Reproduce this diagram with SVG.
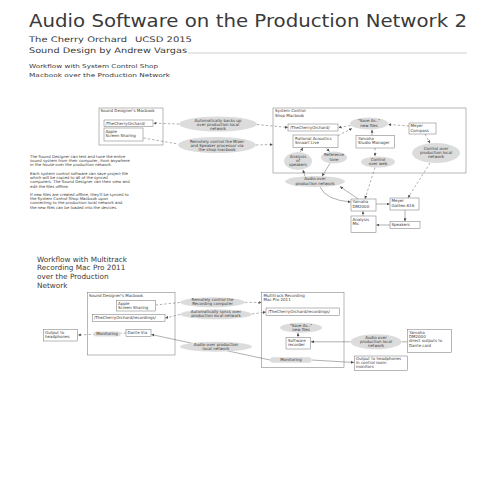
<svg xmlns="http://www.w3.org/2000/svg" width="495" height="495" viewBox="0 0 495 495">
<style>
text{font-family:"DejaVu Sans","Liberation Sans",sans-serif;fill:#3a3a3a}
.s{font-size:4px}
.p{font-size:3.9px}
.m{text-anchor:middle}
.box{fill:#fff;stroke:#707070;stroke-width:0.5}
.pill{fill:#dcdcdc}
.c{stroke:#606060;stroke-width:0.5;fill:none}
.d{stroke-dasharray:2.4 2}
</style>
<defs>
<marker id="a" markerUnits="userSpaceOnUse" markerWidth="3" markerHeight="3" refX="3" refY="1.5" orient="auto"><path d="M0,0 L3,1.5 L0,3 z" fill="#505050"/></marker>
</defs>
<rect width="495" height="495" fill="#fff"/>
<g id="heading">
<text x="29" y="27" font-size="17" textLength="438" lengthAdjust="spacingAndGlyphs">Audio Software on the Production Network 2</text>
<text x="29" y="41.7" font-size="7.6" textLength="98" lengthAdjust="spacingAndGlyphs">The Cherry Orchard</text>
<text x="135" y="41.7" font-size="7.6" textLength="57" lengthAdjust="spacingAndGlyphs">UCSD 2015</text>
<text x="29" y="53" font-size="7.6" textLength="158" lengthAdjust="spacingAndGlyphs">Sound Design by Andrew Vargas</text>
<line x1="188" y1="53" x2="467" y2="53" stroke="#b0b0b0" stroke-width="0.6"/>
<text x="29" y="68.3" font-size="5.4" textLength="129" lengthAdjust="spacingAndGlyphs">Workflow with System Control Shop</text>
<text x="29" y="77.3" font-size="5.4" textLength="141" lengthAdjust="spacingAndGlyphs">Macbook over the Production Network</text>
</g>
<g id="notes" class="p">
<text x="30" y="158" class="p">The Sound Designer can test and tune the entire</text>
<text x="30" y="162.2" class="p">sound system from their computer, from anywhere</text>
<text x="30" y="166.4" class="p">in the house over the production network.</text>
<text x="30" y="175" class="p">Each system control software can save project file</text>
<text x="30" y="179.2" class="p">which will be copied to all of the synced</text>
<text x="30" y="183.4" class="p">computers. The Sound Designer can then view and</text>
<text x="30" y="187.6" class="p">edit the files offline.</text>
<text x="30" y="196" class="p">If new files are created offline, they'll be synced to</text>
<text x="30" y="200.2" class="p">the System Control Shop Macbook upon</text>
<text x="30" y="204.4" class="p">connecting to the production local network and</text>
<text x="30" y="208.6" class="p">the new files can be loaded into the devices.</text>
</g>
<g id="heading2">
<text x="37" y="261.5" font-size="7.3">Workflow with Multitrack</text>
<text x="37" y="270.3" font-size="7.3">Recording Mac Pro 2011</text>
<text x="37" y="279" font-size="7.3">over the Production</text>
<text x="37" y="287.7" font-size="7.3">Network</text>
</g>
<g id="containers">
<g id="sdm1"><rect class="box" x="99" y="108" width="64" height="37"/><text class="s" x="100.5" y="112.3">Sound Designer's Macbook</text></g>
<g id="scs"><rect class="box" x="273" y="108" width="193" height="65"/><text class="s" x="275" y="112.3">System Control</text><text class="s" x="275" y="116.6">Shop Macbook</text></g>
<g id="sdm2"><rect class="box" x="87.5" y="292.5" width="87.5" height="62.5"/><text class="s" x="89" y="296.7">Sound Designer's Macbook</text></g>
<g id="mt"><rect class="box" x="261.7" y="292.7" width="82.3" height="74.6"/><text class="s" x="263.5" y="297">Multitrack Recording</text><text class="s" x="263.5" y="301.3">Mac Pro 2011</text></g>
</g>
<g id="connectors">
<line class="c d" x1="179" y1="124" x2="153.5" y2="123.2" marker-end="url(#a)"/>
<line class="c d" x1="257" y1="124.5" x2="288" y2="127.5" marker-end="url(#a)"/>
<line class="c d" x1="143.5" y1="138" x2="178" y2="144"/>
<line class="c d" x1="256" y1="145" x2="272.8" y2="144.5" marker-end="url(#a)"/>
<line class="c d" x1="350.5" y1="125.5" x2="338.5" y2="127.5" marker-end="url(#a)"/>
<line class="c d" x1="338" y1="135.5" x2="352" y2="128.5" marker-end="url(#a)"/>
<line class="c d" x1="372" y1="135.5" x2="372" y2="129.7" marker-end="url(#a)"/>
<line class="c d" x1="409" y1="126" x2="388.2" y2="124.5" marker-end="url(#a)"/>
<line class="c d" x1="425" y1="134" x2="430" y2="143.3" marker-end="url(#a)"/>
<line class="c d" x1="430" y1="163" x2="408" y2="197.8" marker-end="url(#a)"/>
<line class="c d" x1="375" y1="148" x2="375" y2="156.3" marker-end="url(#a)"/>
<line class="c d" x1="375" y1="167.5" x2="365" y2="198.8" marker-end="url(#a)"/>
<line class="c" x1="300" y1="152.3" x2="303" y2="147.8" marker-end="url(#a)"/>
<line class="c" x1="326" y1="147.8" x2="329.5" y2="151.6" marker-end="url(#a)"/>
<line class="c" x1="305" y1="176.3" x2="303" y2="170" marker-end="url(#a)"/>
<line class="c" x1="330" y1="163.5" x2="322" y2="176.2" marker-end="url(#a)"/>
<path class="c" d="M320,187 Q326,200 350.7,202" marker-end="url(#a)"/>
<line class="c" x1="358" y1="198.8" x2="340" y2="186.5" marker-end="url(#a)"/>
<line class="c" x1="376" y1="204" x2="389.7" y2="204" marker-end="url(#a)"/>
<line class="c" x1="405" y1="210" x2="405" y2="221.3" marker-end="url(#a)"/>
<line class="c" x1="390" y1="225" x2="376.3" y2="225" marker-end="url(#a)"/>
<line class="c" x1="363" y1="216" x2="363" y2="211.3" marker-end="url(#a)"/>
<line class="c d" x1="155.5" y1="305" x2="180" y2="302.5"/>
<line class="c d" x1="245" y1="302.3" x2="261.5" y2="302.5" marker-end="url(#a)"/>
<line class="c d" x1="180" y1="314.5" x2="165.3" y2="318" marker-end="url(#a)"/>
<line class="c d" x1="252" y1="314" x2="265.8" y2="312" marker-end="url(#a)"/>
<line class="c d" x1="126" y1="333" x2="77.8" y2="335" marker-end="url(#a)"/>
<line class="c" x1="270" y1="360" x2="151.3" y2="334.5" marker-end="url(#a)"/>
<line class="c" x1="298" y1="337.3" x2="298" y2="333" marker-end="url(#a)"/>
<line class="c" x1="350.5" y1="341.8" x2="311" y2="341.8" marker-end="url(#a)"/>
<line class="c" x1="401.5" y1="341.8" x2="407.3" y2="341.8"/>
<line class="c" x1="311.7" y1="360" x2="354" y2="362.5" marker-end="url(#a)"/>
</g>
<g id="tco1"><rect class="box" x="104" y="120" width="49" height="6.5"/><text class="s" x="105.5" y="124.6">/TheCherryOrchard/</text></g>
<g id="apple1"><rect class="box" x="104" y="128" width="39" height="13"/><text class="s" x="105.5" y="132.5">Apple</text><text class="s" x="105.5" y="137">Screen Sharing</text></g>
<g id="e1"><ellipse class="pill" cx="218" cy="124" rx="39" ry="7.5"/><text class="s m" x="218" y="121.5">Automatically backs up</text><text class="s m" x="218" y="125.8">over production local</text><text class="s m" x="218" y="130">network</text></g>
<g id="e2"><ellipse class="pill" cx="217" cy="145" rx="39" ry="8"/><text class="s m" x="217" y="142.5">Remotely control  the Mixer</text><text class="s m" x="217" y="146.7">and Speaker processor via</text><text class="s m" x="217" y="150.9">the shop macbook</text></g>
<g id="tco2"><rect class="box" x="288" y="124" width="50" height="7"/><text class="s" x="290" y="128.8">/TheCherryOrchard/</text></g>
<g id="saveas1"><ellipse class="pill" cx="369" cy="123.5" rx="19" ry="6"/><text class="s m" x="369" y="122.3">"Save As.."</text><text class="s m" x="369" y="126.6">new files</text></g>
<g id="compass"><rect class="box" x="409" y="123" width="27" height="11"/><text class="s" x="410.5" y="127.3">Meyer</text><text class="s" x="410.5" y="131.6">Compass</text></g>
<g id="smaart"><rect class="box" x="293" y="135" width="45" height="12.5"/><text class="s" x="295" y="139.7">Rational Acoustics</text><text class="s" x="295" y="144">Smaart Live</text></g>
<g id="studio"><rect class="box" x="356" y="135.5" width="38.5" height="12.5"/><text class="s" x="358" y="140">Yamaha</text><text class="s" x="358" y="144.3">Studio Manager</text></g>
<g id="analysis"><ellipse class="pill" cx="298" cy="161" rx="14" ry="9"/><text class="s m" x="298" y="158">Analysis</text><text class="s m" x="298" y="162.2">of</text><text class="s m" x="298" y="166.4">speakers</text></g>
<g id="reftone"><ellipse class="pill" cx="334" cy="157.5" rx="13" ry="6"/><text class="s m" x="334" y="156.3">Reference</text><text class="s m" x="334" y="160.5">tone</text></g>
<g id="ctrlweb"><ellipse class="pill" cx="378" cy="162" rx="17" ry="5.5"/><text class="s m" x="378" y="160.8">Control</text><text class="s m" x="378" y="165">over web</text></g>
<g id="ctrlnet"><ellipse class="pill" cx="436" cy="153" rx="24" ry="10"/><text class="s m" x="436" y="149.8">Control over</text><text class="s m" x="436" y="154">production local</text><text class="s m" x="436" y="158.2">network</text></g>
<g id="audio1"><ellipse class="pill" cx="315" cy="181.5" rx="30" ry="5.5"/><text class="s m" x="315" y="180.3">Audio over</text><text class="s m" x="315" y="184.5">production network</text></g>
<g id="yamaha1"><rect class="box" x="351" y="199" width="25" height="12"/><text class="s" x="352.5" y="203.3">Yamaha</text><text class="s" x="352.5" y="207.6">DM2000</text></g>
<g id="galileo"><rect class="box" x="390" y="198" width="29" height="12"/><text class="s" x="391.5" y="202.3">Meyer</text><text class="s" x="391.5" y="206.6">Galileo 616</text></g>
<g id="speakers"><rect class="box" x="390" y="221.5" width="30" height="7"/><text class="s" x="391.5" y="226.3">Speakers</text></g>
<g id="mic"><rect class="box" x="351" y="216" width="25" height="16.5"/><text class="s" x="352.5" y="220.5">Analysis</text><text class="s" x="352.5" y="224.8">Mic</text></g>
<g id="apple2"><rect class="box" x="116.5" y="300.5" width="39" height="10.5"/><text class="s" x="118" y="304.5">Apple</text><text class="s" x="118" y="309">Screen Sharing</text></g>
<g id="rec1"><rect class="box" x="92.5" y="314.5" width="72.5" height="7"/><text class="s" x="94" y="319.3">/TheCherryOrchard/recordings/</text></g>
<g id="dante"><rect class="box" x="126" y="329.5" width="25" height="7"/><text class="s" x="127.5" y="334.3">Dante Via</text></g>
<g id="mon1"><rect class="pill" x="93.5" y="331.5" width="27" height="5" rx="2.5"/><text class="s m" x="107" y="335.3">Monitoring</text></g>
<g id="out1"><rect class="box" x="43.5" y="329.5" width="34" height="11.5"/><text class="s" x="45" y="333.5">Output to</text><text class="s" x="45" y="337.8">headphones</text></g>
<g id="e3"><ellipse class="pill" cx="212.5" cy="302.3" rx="32.5" ry="5"/><text class="s m" x="212.5" y="301.2">Remotely control the</text><text class="s m" x="212.5" y="305.4">Recording computer</text></g>
<g id="e4"><ellipse class="pill" cx="216" cy="314.3" rx="36" ry="5"/><text class="s m" x="216" y="313.2">Automatically syncs over</text><text class="s m" x="216" y="317.4">production local network</text></g>
<g id="e5"><ellipse class="pill" cx="216" cy="346.7" rx="36" ry="5"/><text class="s m" x="216" y="345.6">Audio over production</text><text class="s m" x="216" y="349.8">local network</text></g>
<g id="rec2"><rect class="box" x="266" y="308" width="73.5" height="7.5"/><text class="s" x="268" y="313">/TheCherryOrchard/recordings/</text></g>
<g id="saveas2"><ellipse class="pill" cx="301" cy="327.7" rx="21" ry="5"/><text class="s m" x="301" y="326.5">"Save As.."</text><text class="s m" x="301" y="330.7">new files</text></g>
<g id="swrec"><rect class="box" x="286" y="337.3" width="24.7" height="11.7"/><text class="s" x="288" y="341.5">Software</text><text class="s" x="288" y="345.8">recorder</text></g>
<g id="mon2"><rect class="pill" x="270" y="357.3" width="41.7" height="5.4" rx="2.7"/><text class="s m" x="291" y="361.3">Monitoring</text></g>
<g id="e6"><ellipse class="pill" cx="376" cy="341.8" rx="25.5" ry="7.5"/><text class="s m" x="376" y="339">Audio over</text><text class="s m" x="376" y="343.2">production local</text><text class="s m" x="376" y="347.4">network</text></g>
<g id="yamaha2"><rect class="box" x="407.3" y="329.3" width="44.4" height="23.4"/><text class="s" x="409" y="333.7">Yamaha</text><text class="s" x="409" y="338">DM2000</text><text class="s" x="409" y="342.3">direct outputs to</text><text class="s" x="409" y="346.6">Dante card</text></g>
<g id="out2"><rect class="box" x="354.3" y="356" width="53" height="14.7"/><text class="s" x="356" y="359.8">Output to headphones</text><text class="s" x="356" y="364.1">in control room</text><text class="s" x="356" y="368.4">monitors</text></g>
</svg>
